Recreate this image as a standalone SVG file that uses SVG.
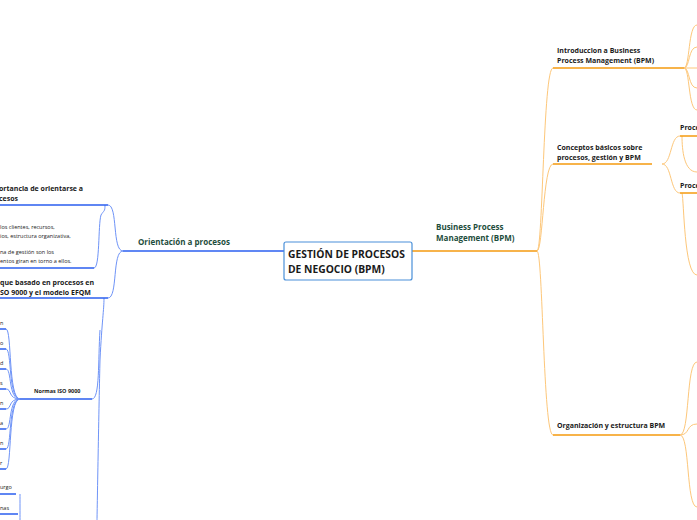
<svg xmlns="http://www.w3.org/2000/svg" width="697" height="520" viewBox="0 0 697 520">
<style>
text{font-family:"Open Sans","Noto Sans",sans-serif;fill:#1a1a1a}
.b{font-weight:bold;font-size:7px}
.s{font-size:5.5px}
.g{fill:#1e4d3c;font-weight:bold;font-size:8px}
.oc{fill:none;stroke:#fdc77a;stroke-width:1}
.ou{fill:none;stroke:#f59a0f;stroke-width:1.5}
.bc{fill:none;stroke:#6e93f7;stroke-width:1}
.bu{fill:none;stroke:#2b5ff0;stroke-width:1.5}
</style>
<rect width="697" height="520" fill="#fff"/>
<g id="connectors">
<path class="ou" d="M412 251 H537"/>
<path class="oc" d="M537 251 C543 251 543 68 553 68 M537 251 C543 251 543 164 553 164 M537 251 C543 251 543 435 553 435"/>
<path class="ou" d="M553 68 H684 M553 164 H652 M553 435 H680"/>
<path class="oc" d="M684 68 C690 68 688 25 697 25 M684 68 C690 68 688 47 697 47 M684 68 H697 M684 68 C690 68 688 88 697 88 M684 68 C690 68 688 110 697 110"/>
<path class="oc" d="M662 164 C672 164 670 136 680 136 M662 164 C672 164 670 193 680 193 M682 136 C682 150 684 172 697 172 M682 193 C684 200 684 275 697 275"/>
<path class="ou" d="M680 136 H697 M680 193 H697"/>
<path class="oc" d="M680 435 C690 435 686 362 697 362 M680 435 C690 435 686 424 697 424 M680 435 C690 435 686 507 697 507"/>
<path class="bu" d="M284 251 H123"/>
<path class="bc" d="M123 251 C112 251 118 205 108 205 M123 251 C112 251 118 298 108 298 M105 205 C105 212 104 210 101 215 C98 225 100 268 94 268 M104 298 C104 310 102 320 100 360 C99 400 97 520 97 520 M100 330 C98 360 100 399 92 399"/>
<path class="bu" d="M0 205 H108 M0 268 H94 M0 298 H108 M20 399 H92"/>
<path class="bc" d="M20 399 C8 399 12 329 6 329 M20 399 C8 399 12 349 6 349 M20 399 C8 399 12 369 6 369 M20 399 C8 399 12 389 6 389 M20 399 C8 399 12 409 6 409 M20 399 C8 399 12 429 6 429 M20 399 C8 399 12 449 6 449 M20 399 C8 399 12 469 6 469 M20 494 C20 500 20 514 20 520"/>
<path class="bu" d="M0 329 H6 M0 349 H6 M0 369 H6 M0 389 H6 M0 409 H6 M0 429 H6 M0 449 H6 M0 469 H6 M0 494 H16 M0 514 H18"/>
</g>
<g id="root">
<rect x="284" y="242" width="128" height="38" rx="2" fill="#fff" stroke="#4a90d9" stroke-width="1.2"/>
<text x="288" y="258" style="font-weight:bold;font-size:10.3px">GESTIÓN DE PROCESOS</text>
<text x="288" y="273" style="font-weight:bold;font-size:10.3px">DE NEGOCIO (BPM)</text>
</g>
<g id="bpm"><text class="g" x="436" y="230">Business Process</text><text class="g" x="436" y="241">Management (BPM)</text></g>
<g id="intro"><text class="b" x="557" y="53">Introduccion a Business</text><text class="b" x="557" y="63">Process Management (BPM)</text></g>
<g id="conceptos"><text class="b" x="557" y="150">Conceptos básicos sobre</text><text class="b" x="557" y="160">procesos, gestión y BPM</text></g>
<g id="proc1"><text class="b" x="680" y="130">Proce</text></g>
<g id="proc2"><text class="b" x="680" y="188">Proce</text></g>
<g id="org"><text class="b" x="557" y="428">Organización y estructura BPM</text></g>
<g id="orientacion"><text class="g" x="138" y="245">Orientación a procesos</text></g>
<g id="importancia"><text class="b" x="-1" y="191">ortancia de orientarse a</text><text class="b" x="-1" y="201">cesos</text></g>
<g id="detalle"><text class="s" x="0" y="229">   los clientes, recursos,</text><text class="s" x="0" y="238">ios, estructura organizativa,</text><text class="s" x="0" y="254">na de gestión son los</text><text class="s" x="0" y="263">entos giran en torno a ellos.</text></g>
<g id="enfoque"><text class="b" x="0" y="285">que basado en procesos en</text><text class="b" x="0" y="295">SO 9000 y el modelo EFQM</text></g>
<g id="normas"><text class="s" x="34" y="393" style="font-weight:bold">Normas ISO 9000</text></g>
<g id="leaves" class="s">
<text class="s" x="0" y="325">n</text><text class="s" x="0" y="345">o</text><text class="s" x="0" y="365">d</text><text class="s" x="0" y="385">s</text><text class="s" x="0" y="405">n</text><text class="s" x="0" y="425">a</text><text class="s" x="0" y="445">n</text><text class="s" x="0" y="465">r</text>
<text class="s" x="0" y="489">urgo</text><text class="s" x="0" y="510">nas</text>
</g>
</svg>
